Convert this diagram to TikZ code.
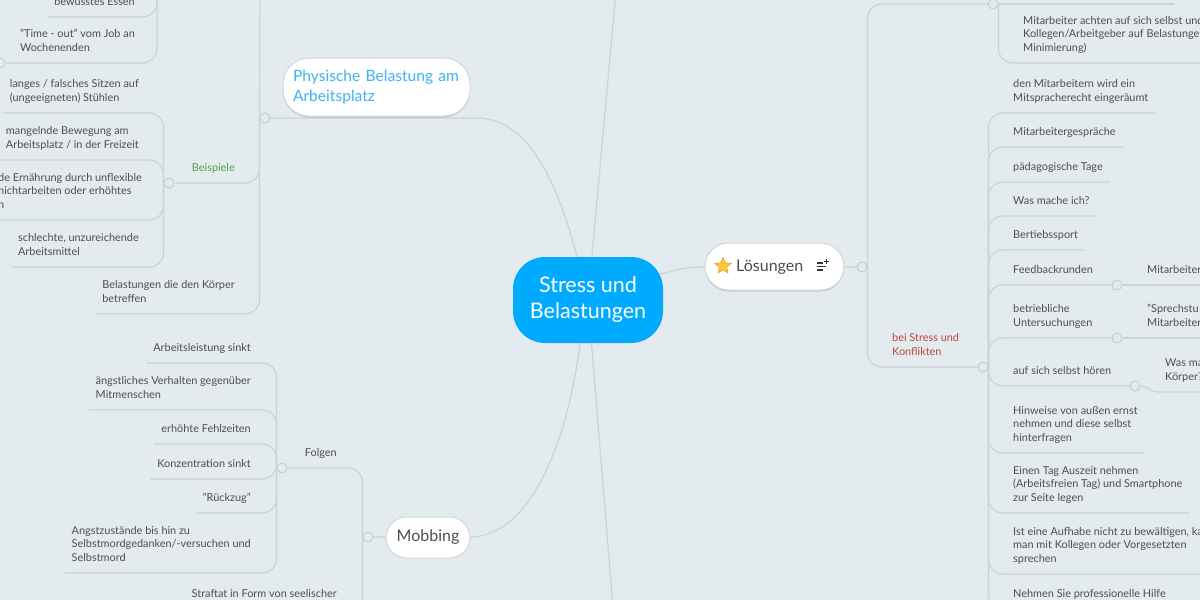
\documentclass[tikz,border=0pt]{standalone}
\usepackage{fontspec}
\setmainfont{Lato}
\usetikzlibrary{shapes.geometric,shadows}
\definecolor{bg}{RGB}{228,235,239}
\definecolor{ln}{RGB}{204,211,216}
\definecolor{jc}{RGB}{198,205,210}
\definecolor{cblue}{RGB}{0,170,255}
\definecolor{phys}{RGB}{60,180,242}
\definecolor{txt}{RGB}{78,78,78}
\definecolor{grn}{RGB}{80,160,80}
\definecolor{kred}{RGB}{190,70,60}
\definecolor{bord}{RGB}{208,214,218}
\definecolor{starY}{RGB}{255,200,60}
\definecolor{starO}{RGB}{225,160,30}
\pgfdeclarelayer{edges}
\pgfsetlayers{edges,main}
\tikzset{
  edge/.style={draw=ln, line width=1.2pt},
  conn/.style={draw=ln, line width=1.2pt, rounded corners=14pt},
  jn/.style={circle, draw=jc, fill=bg, line width=1pt, minimum size=10pt, inner sep=0pt},
  lt/.style={font=\fontsize{10.9}{13.5}\selectfont, text=txt, align=left, inner xsep=7pt, inner ysep=7.5pt, execute at end node=\strut},
  topic/.style={rectangle, fill=white, draw=bord, line width=1pt, inner sep=0pt},
  softshadow/.style={drop shadow={shadow xshift=0pt, shadow yshift=-1.5pt, opacity=0.12, fill=black}},
}
\begin{document}
\begin{tikzpicture}[x=1pt,y=-1pt]
\useasboundingbox (0,0) rectangle (1200,600);

% ---------- main topics ----------
\node[rectangle, fill=cblue, rounded corners=32pt, minimum width=150pt, minimum height=86pt, inner sep=0pt,
      text=white, align=center, font=\fontsize{21.5}{26}\selectfont] (C) at (588,300) {Stress und\\Belastungen};
\node[topic, softshadow, rounded corners=26pt, minimum width=187pt, minimum height=58pt, inner xsep=10pt,
      text width=167pt, align=left, text=phys, font=\fontsize{15.6}{20}\selectfont] (P) at (376.5,87) {Physische Belastung am\\Arbeitsplatz};
\node[topic, rounded corners=20.5pt, minimum width=84pt, minimum height=41pt, text=txt,
      font=\fontsize{16}{20}\selectfont] (M) at (428,537.5) {Mobbing};
\node[topic, softshadow, rounded corners=23.5pt, minimum width=139pt, minimum height=47pt] (L) at (774.5,266.5) {};
\node[anchor=west, inner sep=0pt, text=txt, font=\fontsize{16}{20}\selectfont] (Lt) at (736,267) {Lösungen};
\node[star, star points=5, star point ratio=2.2, fill=starY, draw=starO, line width=0.6pt, minimum size=17pt, inner sep=0pt] (Ls) at (723,266) {};
\draw[txt!70!black, line width=1.1pt] (817,263) -- (823,263) (817,266.5) -- (825.5,266.5) (817,270) -- (823,270)
      (826.5,259) -- (826.5,264) (824,261.5) -- (829,261.5);

\coordinate (topoff) at (617,-20);
\coordinate (botoff) at (614,620);

% ---------- junctions ----------
\node[jn] (Pc) at (265,118) {};
\node[jn] (Bc) at (169,183) {};
\node[jn] (e2c) at (0,63) {};
\node[jn] (Fc) at (282,468) {};
\node[jn] (Mc) at (368,537) {};
\node[jn] (Lc) at (862,267) {};
\node[jn] (Tc) at (993,4) {};
\node[jn] (Bsc) at (983,367) {};
\node[jn] (fbc) at (1117,285) {};
\node[jn] (buc) at (1117,338) {};
\node[jn] (hc) at (1135,386) {};
\coordinate (pup) at (260,-30);
\coordinate (eup) at (157,-40);
\coordinate (tcr) at (1175,4);

% ---------- left: physische ----------
\node[lt, anchor=south east] (e1) at (142,17) {bewusstes Essen};
\node[lt, anchor=south east] (e2) at (142,63) {"Time - out" vom Job an\\Wochenenden};
\node[lt, anchor=south east, text=grn] (bsp) at (242,183) {Beispiele};
\node[lt, anchor=south east] (bel) at (242,314) {Belastungen die den Körper\\betreffen};
\node[lt, anchor=south east] (b1) at (146,113) {langes / falsches Sitzen auf\\(ungeeigneten) Stühlen};
\node[lt, anchor=south east] (b2) at (146,160) {mangelnde Bewegung am\\Arbeitsplatz / in der Freizeit};
\node[lt, anchor=south west] (b3) at (-9,220) {de Ernährung durch unflexible\\hichtarbeiten oder erhöhtes\\n};
\node[lt, anchor=south east] (b4) at (146,267) {schlechte, unzureichende\\Arbeitsmittel};

% ---------- left: mobbing ----------
\node[lt, anchor=south east] (fol) at (344,468) {Folgen};
\node[lt, anchor=south east] (straf) at (344,609) {Straftat in Form von seelischer};
\node[lt, anchor=south east] (f1) at (258,363) {Arbeitsleistung sinkt};
\node[lt, anchor=south east] (f2) at (258,410) {ängstliches Verhalten gegenüber\\Mitmenschen};
\node[lt, anchor=south east] (f3) at (258,444) {erhöhte Fehlzeiten};
\node[lt, anchor=south east] (f4) at (258,479) {Konzentration sinkt};
\node[lt, anchor=south east] (f5) at (258,513) {"Rückzug"};
\node[lt, anchor=south east] (f6) at (258,573) {Angstzustände bis hin zu\\Selbstmordgedanken/-versuchen und\\Selbstmord};

% ---------- right: loesungen ----------
\node[lt, anchor=south west] (ma) at (1016,63) {Mitarbeiter achten auf sich selbst und\\Kollegen/Arbeitgeber auf Belastungen\\Minimierung)};
\node[lt, anchor=south west, text=kred] (bs) at (885,367) {bei Stress und\\Konflikten};
\node[lt, anchor=south west] (r1) at (1006,113) {den Mitarbeitern wird ein\\Mitspracherecht eingeräumt};
\node[lt, anchor=south west] (r2) at (1006,147) {Mitarbeitergespräche};
\node[lt, anchor=south west] (r3) at (1006,182) {pädagogische Tage};
\node[lt, anchor=south west] (r4) at (1006,216) {Was mache ich?};
\node[lt, anchor=south west] (r5) at (1006,250) {Bertiebssport};
\node[lt, anchor=south west] (r6) at (1006,285) {Feedbackrunden};
\node[lt, anchor=south west] (r7) at (1006,338) {betriebliche\\Untersuchungen};
\node[lt, anchor=south west] (r8) at (1006,386) {auf sich selbst hören};
\node[lt, anchor=south west] (r9) at (1006,453) {Hinweise von außen ernst\\nehmen und diese selbst\\hinterfragen};
\node[lt, anchor=south west] (r10) at (1006,513) {Einen Tag Auszeit nehmen\\(Arbeitsfreien Tag) und Smartphone\\zur Seite legen};
\node[lt, anchor=south west] (r11) at (1006,574) {Ist eine Aufhabe nicht zu bewältigen, ka\\man mit Kollegen oder Vorgesetzten\\sprechen};
\node[lt, anchor=south west] (r12) at (1006,609) {Nehmen Sie professionelle Hilfe};
\node[lt, anchor=south west] (fbch) at (1140,285) {Mitarbeiter};
\node[lt, anchor=south west] (buch) at (1140,338) {"Sprechstu\\Mitarbeiter};
\node[lt, anchor=south west] (wm) at (1158,392) {Was ma\\Körper?};

% ---------- connectors ----------
\begin{pgfonlayer}{edges}
\fill[bg] (0,0) rectangle (1200,600);
\draw[edge] (C.center) -- (577,257) .. controls (556,175) and (525,118) .. (477,118) -- (Pc.center);
\draw[edge] (C.center) -- (580,343) .. controls (566,455) and (525,537) .. (470,537) -- (Mc.center);
\draw[edge] (C.center) -- (topoff);
\draw[edge] (C.center) -- (botoff);
\draw[edge] (C.center) -- (655,276) .. controls (680,268) and (690,267) .. (705,267) -- (Lc.center);

% physische
\draw[conn] (Pc.west) -- (pup);
\draw[conn] (Pc.west) |- (Bc.east);
\draw[conn] (Pc.west) |- (bel.south west);
\draw[conn] (eup) |- (e1.south west);
\draw[conn] (eup) |- (e2c.east);
\draw[conn] (Bc.west) |- (b1.south west);
\draw[conn] (Bc.west) |- (b2.south west);
\draw[conn] (Bc.west) |- (b3.south west);
\draw[conn] (Bc.west) |- (b4.south west);

% mobbing
\draw[conn] (Mc.west) |- (Fc.east);
\draw[conn] (Mc.west) |- (straf.south west);
\foreach \n in {f1,f2,f3,f4,f5,f6}{\draw[conn] (Fc.west) |- (\n.south west);}

% loesungen
\draw[conn] (Lc.east) |- (Tc.west);
\draw[conn] (Lc.east) |- (Bsc.west);
\draw[conn] (Tc.east) -- (tcr);
\draw[conn] (Tc.east) |- (ma.south east);
\foreach \n in {r1,r2,r3,r4,r5,r9,r10,r11,r12}{\draw[conn] (Bsc.east) |- (\n.south east);}
\draw[conn] (Bsc.east) |- (fbc.west);
\draw[conn] (Bsc.east) |- (buc.west);
\draw[conn] (Bsc.east) |- (hc.west);
\draw[edge] (fbc.east) -- (fbch.south east);
\draw[edge] (buc.east) -- (buch.south east);
\draw[edge] (hc.east) to[out=0,in=180] (wm.south west) -- (wm.south east);
\end{pgfonlayer}
\end{tikzpicture}
\end{document}
